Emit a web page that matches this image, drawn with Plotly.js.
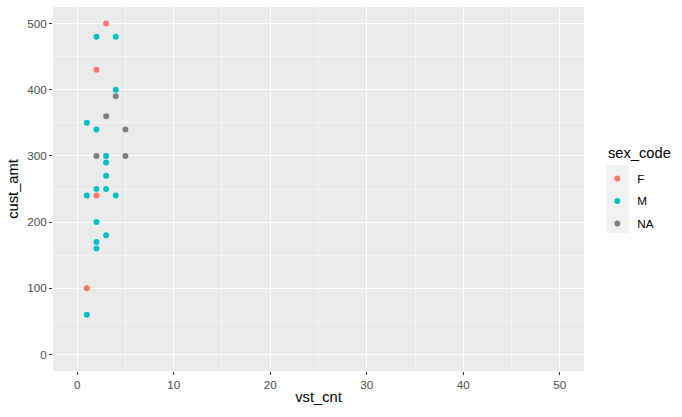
<!DOCTYPE html>
<html>
<head>
<meta charset="utf-8">
<script src="https://cdn.plot.ly/plotly-3.0.1.min.js"></script>
<style>
  html, body { margin: 0; padding: 0; background: #fff; }
  #chart { width: 682px; height: 417px; }
</style>
</head>
<body>
<div id="chart"></div>
<script>
// points, grouped by sex_code
var fVst = [3, 2, 2, 1];
var fAmt = [500, 430, 240, 100];

var mVst = [2, 4, 4, 1, 2, 3, 3, 3, 2, 3, 1, 4, 2, 3, 2, 2, 1];
var mAmt = [480, 480, 400, 350, 340, 300, 290, 270, 250, 250, 240, 240, 200, 180, 170, 160, 60];

var naVst = [4, 3, 5, 2, 5];
var naAmt = [390, 360, 340, 300, 300];

var groups = ['F', 'M', 'NA'];
var colors = ['#F8766D', '#00BFC4', '#7F7F7F'];
var xs = [fVst, mVst, naVst];
var ys = [fAmt, mAmt, naAmt];

var traces = groups.map(function (g, i) {
  return {
    x: xs[i],
    y: ys[i],
    name: g,
    legendgroup: g,
    type: 'scatter',
    mode: 'markers',
    marker: { color: colors[i], size: 6 },
    hoverinfo: 'x+y+name'
  };
});

var FONT = 'Liberation Sans, Arial, sans-serif';

var axisCommon = {
  showgrid: true,
  gridcolor: '#FFFFFF',
  gridwidth: 1.1,
  zeroline: false,
  showline: false,
  ticks: 'outside',
  ticklen: 3,
  tickwidth: 1,
  tickcolor: '#333333',
  tickfont: { family: FONT, size: 11.7, color: '#4D4D4D' }
};
var titleFont = { family: FONT, size: 14.7, color: '#000000' };

var layout = {
  width: 682,
  height: 417,
  margin: { l: 53, r: 98, t: 7, b: 46 },
  paper_bgcolor: '#FFFFFF',
  plot_bgcolor: '#EBEBEB',
  font: { family: FONT },
  xaxis: Object.assign({}, axisCommon, {
    range: [-2.5, 52.5],
    tickvals: [0, 10, 20, 30, 40, 50],
    minor: { dtick: 5, tick0: 5, showgrid: true, gridcolor: '#FFFFFF', gridwidth: 0.5, ticks: '' },
    title: { text: 'vst_cnt', standoff: 1, font: titleFont }
  }),
  yaxis: Object.assign({}, axisCommon, {
    range: [-25, 525],
    tickvals: [0, 100, 200, 300, 400, 500],
    minor: { dtick: 50, tick0: 50, showgrid: true, gridcolor: '#FFFFFF', gridwidth: 0.5, ticks: '' },
    title: { text: 'cust_amt', standoff: 4, font: titleFont }
  }),
  showlegend: true,
  legend: {
    x: 1.025,
    xanchor: 'left',
    y: 0.569,
    yanchor: 'top',
    font: { family: FONT, size: 11.7, color: '#000000' },
    bgcolor: 'rgba(0,0,0,0)',
    itemwidth: 30,
    tracegroupgap: 3.5
  },
  annotations: [{
    text: 'sex_code',
    xref: 'paper', yref: 'paper',
    x: 1.0414, y: 0.599,
    xanchor: 'left', yanchor: 'middle',
    showarrow: false,
    font: { family: FONT, size: 14.7, color: '#000000' }
  }],
  shapes: [{
    type: 'rect',
    xref: 'paper', yref: 'paper',
    x0: 1.0414, x1: 1.0847, y0: 0.379, y1: 0.566,
    fillcolor: '#F2F2F2',
    line: { width: 0 },
    layer: 'below'
  }]
};

Plotly.newPlot('chart', traces, layout, { displayModeBar: false, staticPlot: true });
</script>
</body>
</html>
